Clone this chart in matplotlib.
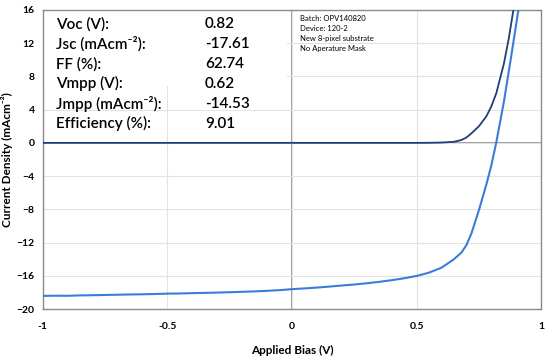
import numpy as np
import matplotlib.pyplot as plt
from matplotlib.patches import Rectangle

plt.rcParams['font.family'] = ['Lato', 'DejaVu Sans']

# light J-V curve (V, mA/cm2)
v_light = [-1.0, -0.95, -0.9, -0.85, -0.8, -0.75, -0.7, -0.65, -0.6, -0.55,
           -0.5, -0.45, -0.4, -0.35, -0.3, -0.25, -0.2, -0.15, -0.1, -0.05,
           0.0, 0.05, 0.1, 0.15, 0.2, 0.25, 0.3, 0.35, 0.4, 0.45,
           0.5, 0.55, 0.6, 0.62, 0.65, 0.68, 0.7, 0.72, 0.75, 0.78,
           0.8, 0.82, 0.85, 0.88, 0.91]
j_light = [-18.42, -18.40, -18.41, -18.36, -18.34, -18.31, -18.28, -18.25, -18.23, -18.19,
           -18.15, -18.13, -18.09, -18.06, -18.02, -17.98, -17.93, -17.88, -17.81, -17.73,
           -17.61, -17.52, -17.42, -17.30, -17.17, -17.05, -16.90, -16.73, -16.53, -16.30,
           -16.02, -15.62, -15.02, -14.62, -14.0, -13.2, -12.3, -10.9, -8.1, -5.0,
           -2.7, 0.1, 4.9, 10.5, 16.3]

# dark J-V curve
v_dark = [-1.0, -0.5, 0.0, 0.3, 0.5, 0.55, 0.6, 0.65, 0.68, 0.7,
          0.72, 0.75, 0.78, 0.8, 0.82, 0.85, 0.87, 0.89]
j_dark = [0.0, 0.0, 0.0, 0.0, 0.0, 0.01, 0.04, 0.13, 0.35, 0.65,
          1.15, 2.0, 3.2, 4.4, 6.0, 9.5, 12.6, 16.3]

stat_names = ['Voc (V):', 'Jsc (mAcm\u207b\u00b2):', 'FF (%):', 'Vmpp (V):',
              'Jmpp (mAcm\u207b\u00b2):', 'Efficiency (%):']
stat_values = ['0.82', '-17.61', '62.74', '0.62', '-14.53', '9.01']
info_lines = ['Batch: OPV140820', 'Device: 120-2', 'New 8-pixel substrate',
              'No Aperature Mask']

fig = plt.figure(figsize=(5.5, 3.56), dpi=100)
ax = fig.add_axes([0.078, 0.132, 0.906, 0.84])

ax.set_xlim(-1, 1)
ax.set_ylim(-20, 16)
ax.set_xticks(np.arange(-1, 1.01, 0.5))
ax.set_xticklabels(['-1', '-0.5', '0', '0.5', '1'])
ax.set_yticks(np.arange(-20, 17, 4))
ax.grid(True, color='#e3e3e3', linewidth=0.8, zorder=0)
ax.axhline(0, color='#8a8a8a', linewidth=1.2, zorder=1)
ax.axvline(0, color='#8a8a8a', linewidth=1.2, zorder=1)
for s in ax.spines.values():
    s.set_color('#8a8a8a')
    s.set_linewidth(1.0)
ax.tick_params(length=0, labelsize=7.5)
ax.tick_params(axis='x', pad=9)
ax.tick_params(axis='y', pad=6)
for lab in ax.get_xticklabels() + ax.get_yticklabels():
    lab.set_fontweight('bold')

ax.plot(v_dark, j_dark, color='#1f3f78', linewidth=1.3, zorder=3)
ax.plot(v_light, j_light, color='#3a7dd8', linewidth=1.5, zorder=3)

# stats table
ax.add_patch(Rectangle((0.0, 0.745), 0.49, 0.255, transform=ax.transAxes,
                       facecolor='white', edgecolor='none', zorder=2))
for i, (n, val) in enumerate(zip(stat_names, stat_values)):
    yy = 0.953 - i * 0.0668
    ax.text(0.027, yy, n, transform=ax.transAxes, fontsize=11, fontweight='semibold',
            va='center', zorder=4)
    ax.text(0.325, yy, val, transform=ax.transAxes, fontsize=11, fontweight='semibold',
            va='center', zorder=4)

for i, line in enumerate(info_lines):
    ax.text(0.515, 0.97 - i * 0.0335, line, transform=ax.transAxes, fontsize=5.5,
            va='center', zorder=4)

ax.set_xlabel('Applied Bias (V)', fontsize=8.5, fontweight='bold')
ax.set_ylabel('Current Density (mAcm\u207b\u00b2)', fontsize=8.5, fontweight='bold')
ax.xaxis.set_label_coords(0.5, -0.12)
ax.yaxis.set_label_coords(-0.06, 0.5)

plt.savefig('out.png', dpi=100)
